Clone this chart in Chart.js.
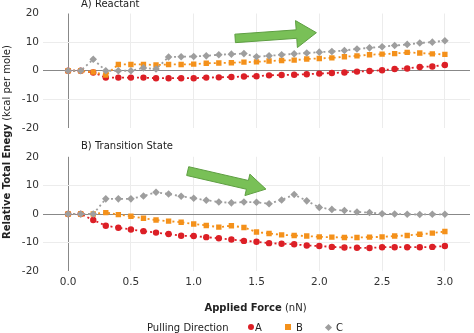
<!DOCTYPE html>
<html>
<head>
<meta charset="utf-8">
<script src="https://cdn.jsdelivr.net/npm/chart.js"></script>
<style>
  body { margin: 0; background: #fff; }
  #wrap { position: relative; width: 474px; height: 333px; overflow: hidden;
          font-family: 'DejaVu Sans', sans-serif; color: #222; }
  canvas { position: absolute; left: 0; }
  .lbl { position: absolute; font-size: 10px; line-height: 12px; white-space: nowrap; }
  .mk { position: absolute; }
</style>
</head>
<body>
<div id="wrap">
  <canvas id="topChart" width="474" height="140" style="top:0;width:474px;height:140px"></canvas>
  <canvas id="botChart" width="474" height="193" style="top:140px;width:474px;height:193px"></canvas>

  <div class="lbl" style="left:81px;top:-2px">A) Reactant</div>
  <div class="lbl" style="left:81px;top:140px">B) Transition State</div>

  <div class="lbl" style="left:-123px;top:135.5px;width:260px;text-align:center;transform:rotate(-90deg)">
    <b>Relative Total Enegy</b> (kcal per mole)</div>

  <div class="lbl" style="left:0;top:301.5px;width:511px;text-align:center">
    <b>Applied Force</b> (nN)</div>

  <div class="lbl" style="left:147px;top:321.5px">Pulling Direction</div>
  <span class="mk" id="mkA" style="left:248px;top:324px;width:6px;height:6px;border-radius:50%"></span>
  <div class="lbl" style="left:255px;top:321.5px">A</div>
  <span class="mk" id="mkB" style="left:285px;top:324px;width:6px;height:6px"></span>
  <div class="lbl" style="left:296px;top:321.5px">B</div>
  <span class="mk" id="mkC" style="left:325.5px;top:324.5px;width:5px;height:5px;transform:rotate(45deg)"></span>
  <div class="lbl" style="left:336px;top:321.5px">C</div>
</div>

<script>
// applied force, nN
const force = [0.0, 0.1, 0.2, 0.3, 0.4, 0.5, 0.6, 0.7, 0.8, 0.9, 1.0,
               1.1, 1.2, 1.3, 1.4, 1.5, 1.6, 1.7, 1.8, 1.9, 2.0,
               2.1, 2.2, 2.3, 2.4, 2.5, 2.6, 2.7, 2.8, 2.9, 3.0];

// A) reactant energies, kcal/mol
const reactA = [0, 0, -0.6, -2.4, -2.4, -2.4, -2.4, -2.6, -2.6, -2.6, -2.6,
                -2.4, -2.3, -2.2, -2.0, -1.9, -1.6, -1.5, -1.4, -1.2, -1.0,
                -0.8, -0.6, -0.3, -0.1, 0.2, 0.6, 0.8, 1.3, 1.5, 2.0];
const reactB = [0, 0, -0.5, -1.5, 2.2, 2.2, 2.2, 2.0, 2.2, 2.2, 2.3,
                2.6, 2.7, 2.8, 3.0, 3.1, 3.4, 3.6, 3.7, 4.1, 4.3,
                4.5, 4.9, 5.2, 5.6, 5.8, 6.0, 6.4, 6.2, 5.9, 5.7];
const reactC = [0, 0, 4.0, 0, 0, 0, 1.0, 0.6, 4.8, 4.9, 5.0,
                5.2, 5.6, 5.8, 6.0, 4.9, 5.2, 5.6, 5.9, 6.2, 6.5,
                6.7, 7.1, 7.6, 8.0, 8.4, 8.8, 9.2, 9.7, 10.0, 10.5];

// B) transition state energies, kcal/mol
const tsA = [0, 0, -2.1, -4.1, -4.8, -5.4, -6.0, -6.5, -7.0, -7.6, -7.7,
             -8.1, -8.5, -8.9, -9.4, -9.7, -10.2, -10.4, -10.6, -11.0, -11.2,
             -11.5, -11.7, -11.8, -11.9, -11.6, -11.6, -11.6, -11.6, -11.5, -11.2];
const tsB = [0, 0, 0, 0.5, -0.2, -0.8, -1.5, -2.1, -2.5, -2.9, -3.5,
             -4.0, -4.6, -4.1, -4.7, -6.3, -6.8, -7.3, -7.5, -7.7, -8.0,
             -8.1, -8.2, -8.2, -8.1, -8.0, -7.7, -7.5, -7.1, -6.7, -6.1];
const tsC = [0, 0, 0, 5.3, 5.3, 5.3, 6.3, 7.6, 7.0, 6.2, 5.5,
             4.8, 4.2, 3.9, 4.2, 4.1, 3.6, 4.9, 6.8, 4.6, 2.3,
             1.6, 1.2, 0.7, 0.5, 0.1, 0, -0.1, -0.2, -0.1, -0.1];

const xTicks = [0, 0.5, 1.0, 1.5, 2.0, 2.5, 3.0];
const yTicks = [-20, -10, 0, 10, 20];

const RED = '#dc1f26', ORANGE = '#f4911b', GRAY = '#9e9e9e';
document.getElementById('mkA').style.background = RED;
document.getElementById('mkB').style.background = ORANGE;
document.getElementById('mkC').style.background = GRAY;

Chart.defaults.font.family = "'DejaVu Sans', sans-serif";
Chart.defaults.color = '#333';

// green direction arrow, ends given in data units
const arrowPlugin = {
  id: 'arrow',
  afterDatasetsDraw(chart, args, opts) {
    if (!opts.from) return;
    const xs = chart.scales.x, ys = chart.scales.y, ctx = chart.ctx;
    const x0 = xs.getPixelForValue(opts.from[0]), y0 = ys.getPixelForValue(opts.from[1]);
    const x1 = xs.getPixelForValue(opts.to[0]), y1 = ys.getPixelForValue(opts.to[1]);
    const len = Math.hypot(x1 - x0, y1 - y0);
    const ux = (x1 - x0) / len, uy = (y1 - y0) / len;
    const nx = -uy, ny = ux;
    const sw = opts.shaft / 2, hw = opts.head / 2, hl = opts.headLength;
    const bx = x1 - ux * hl, by = y1 - uy * hl;
    const pts = [
      [x0 + nx * sw, y0 + ny * sw], [bx + nx * sw, by + ny * sw], [bx + nx * hw, by + ny * hw],
      [x1, y1],
      [bx - nx * hw, by - ny * hw], [bx - nx * sw, by - ny * sw], [x0 - nx * sw, y0 - ny * sw]
    ];
    ctx.save();
    ctx.beginPath();
    pts.forEach((p, i) => i ? ctx.lineTo(p[0], p[1]) : ctx.moveTo(p[0], p[1]));
    ctx.closePath();
    ctx.fillStyle = '#79c057';
    ctx.fill();
    ctx.strokeStyle = '#5e9e42';
    ctx.lineWidth = 1;
    ctx.stroke();
    ctx.restore();
  }
};

function series(label, values, color, style, radius, order) {
  return {
    label: label,
    data: force.map((f, i) => ({ x: f, y: values[i] })),
    borderColor: color,
    backgroundColor: color,
    borderWidth: 1.8,
    borderDash: [2, 3],
    pointStyle: style,
    pointRadius: radius,
    pointBorderWidth: 0,
    order: order
  };
}

function makePanel(id, a, b, c, arrow, showX, pad, xHeight) {
  return new Chart(document.getElementById(id), {
    type: 'line',
    data: {
      datasets: [
        series('A', a, RED, 'circle', 3.2, 3),
        series('B', b, ORANGE, 'rect', 3.8, 2),
        series('C', c, GRAY, 'rectRot', 3.8, 1)
      ]
    },
    options: {
      responsive: false,
      animation: false,
      devicePixelRatio: 1,
      layout: { padding: pad },
      plugins: { legend: { display: false }, tooltip: { enabled: false }, arrow: arrow },
      scales: {
        x: {
          type: 'linear', min: -0.2, max: 3.2,
          afterBuildTicks: s => { s.ticks = xTicks.map(v => ({ value: v })); },
          afterFit: s => { s.height = xHeight; },
          border: { display: false },
          grid: {
            drawTicks: false,
            color: ctx => ctx.tick && ctx.tick.value === 0 ? '#888888' : '#ececec'
          },
          ticks: {
            display: showX, padding: 5,
            font: { size: 10.5 },
            callback: v => v.toFixed(1)
          }
        },
        y: {
          min: -20, max: 20,
          afterBuildTicks: s => { s.ticks = yTicks.map(v => ({ value: v })); },
          afterFit: s => { s.width = 43; },
          border: { display: false },
          grid: {
            drawTicks: false,
            color: ctx => {
              const v = ctx.tick ? ctx.tick.value : null;
              if (v === 0) return '#888888';
              if (Math.abs(v) === 20) return 'rgba(0,0,0,0)';
              return '#ececec';
            }
          },
          ticks: { padding: 4, font: { size: 10.5 } }
        }
      }
    },
    plugins: [arrowPlugin]
  });
}

makePanel('topChart', reactA, reactB, reactC,
  { from: [1.33, 11.3], to: [1.977, 13.3], shaft: 8.5, head: 27, headLength: 20 },
  false, { top: 13.5, bottom: 12, left: 0, right: 0 }, 0);

makePanel('botChart', tsA, tsB, tsC,
  { from: [0.952, 15.0], to: [1.575, 8.7], shaft: 9, head: 22, headLength: 19 },
  true, { top: 16.8, bottom: 41.8, left: 0, right: 0 }, 20);
</script>
</body>
</html>
